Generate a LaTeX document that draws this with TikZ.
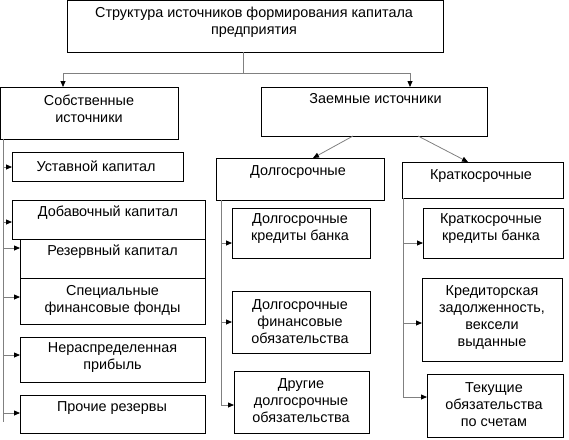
\documentclass[tikz,border=0pt]{standalone}
\usepackage{fontspec}
\setmainfont{Liberation Sans}
\usetikzlibrary{arrows.meta}
\tikzset{
  bx/.style={draw=black,line width=0.9pt,inner sep=0pt,outer sep=0pt,anchor=north west},
  tx/.style={align=center,inner sep=0pt,font=\fontsize{14.4}{17}\selectfont},
  conn/.style={draw=black!50,line width=0.8pt},
  arr/.style={conn,-{Triangle[length=6pt,width=5pt,color=black]}},
}
\newcommand\mybox[5]{\node[bx,minimum width={#4-#2},minimum height={#5-#3}] (#1) at (#2,#3) {};}
\newcommand\larr[3]{\draw[arr] (#1 |- 0,#2) -- (#3.west |- 0,#2);}
\begin{document}
\begin{tikzpicture}[x=1pt,y=-1pt]
\useasboundingbox (0,0) rectangle (569,439);
% boxes
\mybox{top}{67}{0.5}{443}{52}
\mybox{own}{0.5}{87}{178}{139}
\mybox{zaem}{261}{87}{487}{136}
\mybox{long}{216}{158}{384}{200}
\mybox{short}{402}{162}{563}{198}
\mybox{ust}{12}{152}{183}{181}
\mybox{dob}{12}{200}{205}{239}
\mybox{rez}{20}{239}{205}{278}
\mybox{spec}{20}{278}{205}{324}
\mybox{ner}{20}{337}{205}{382}
\mybox{proch}{20}{395}{205}{433}
\mybox{lk}{232}{208}{370}{258}
\mybox{lf}{232}{291}{370}{353}
\mybox{ld}{234}{371}{369}{433}
\mybox{sk}{423}{208}{563}{258}
\mybox{sc}{422}{278}{562}{361}
\mybox{st}{427}{374}{563}{437}
% texts
\node[tx] (ttop) at (254,22.5) {Структура источников формирования капитала\\предприятия};
\node[tx] (town) at (89,108.5) {Собственные\\источники};
\node[tx] (tzaem) at (375.5,99) {Заемные источники};
\node[tx] (tlong) at (298,172) {Долгосрочные};
\node[tx] (tshort) at (481,176) {Краткосрочные};
\node[tx] (tust) at (96,166) {Уставной капитал};
\node[tx] (tdob) at (108,213) {Добавочный капитал};
\node[tx] (trez) at (112.5,252) {Резервный капитал};
\node[tx] (tspec) at (112.5,300.5) {Специальные\\финансовые фонды};
\node[tx] (tner) at (112.5,358) {Нераспределенная\\прибыль};
\node[tx] (tproch) at (112,408) {Прочие резервы};
\node[tx] (tlk) at (300,229) {Долгосрочные\\кредиты банка};
\node[tx] (tlf) at (300,321.5) {Долгосрочные\\финансовые\\обязательства};
\node[tx] (tld) at (301,400.5) {Другие\\долгосрочные\\обязательства};
\node[tx] (tsk) at (491,229) {Краткосрочные\\кредиты банка};
\node[tx] (tsc) at (492,317.5) {Кредиторская\\задолженность,\\вексели\\выданные};
\node[tx] (tst) at (494,405) {Текущие\\обязательства\\по счетам};
% top connectors
\coordinate (j) at (243,73);
\coordinate (jl) at (63,73);
\coordinate (jr) at (410,73);
\draw[conn] (top.south -| j) -- (j);
\draw[conn] (jl) -- (jr);
\draw[arr] (jl) -- (jl |- own.north);
\draw[arr] (jr) -- (jr |- zaem.north);
\draw[arr] ([xshift=-21pt]zaem.south) -- ([xshift=13pt]long.north);
\draw[arr] ([xshift=44pt]zaem.south) -- ([xshift=-14.5pt]short.north);
% left branch
\coordinate (vl) at (3,422);
\draw[conn] (own.south -| vl) -- (vl);
\larr{vl}{167}{ust}
\larr{vl}{222}{dob}
\larr{vl}{248}{rez}
\larr{vl}{297}{spec}
\larr{vl}{355}{ner}
\larr{vl}{413}{proch}
% middle branch
\coordinate (vm) at (221,405);
\draw[conn] (long.south -| vm) -- (vm);
\larr{vm}{243}{lk}
\larr{vm}{322}{lf}
\larr{vm}{405}{ld}
% right branch
\coordinate (vr) at (403,397);
\draw[conn] (short.south -| vr) -- (vr);
\larr{vr}{243}{sk}
\larr{vr}{323}{sc}
\larr{vr}{397}{st}
\end{tikzpicture}
\end{document}
